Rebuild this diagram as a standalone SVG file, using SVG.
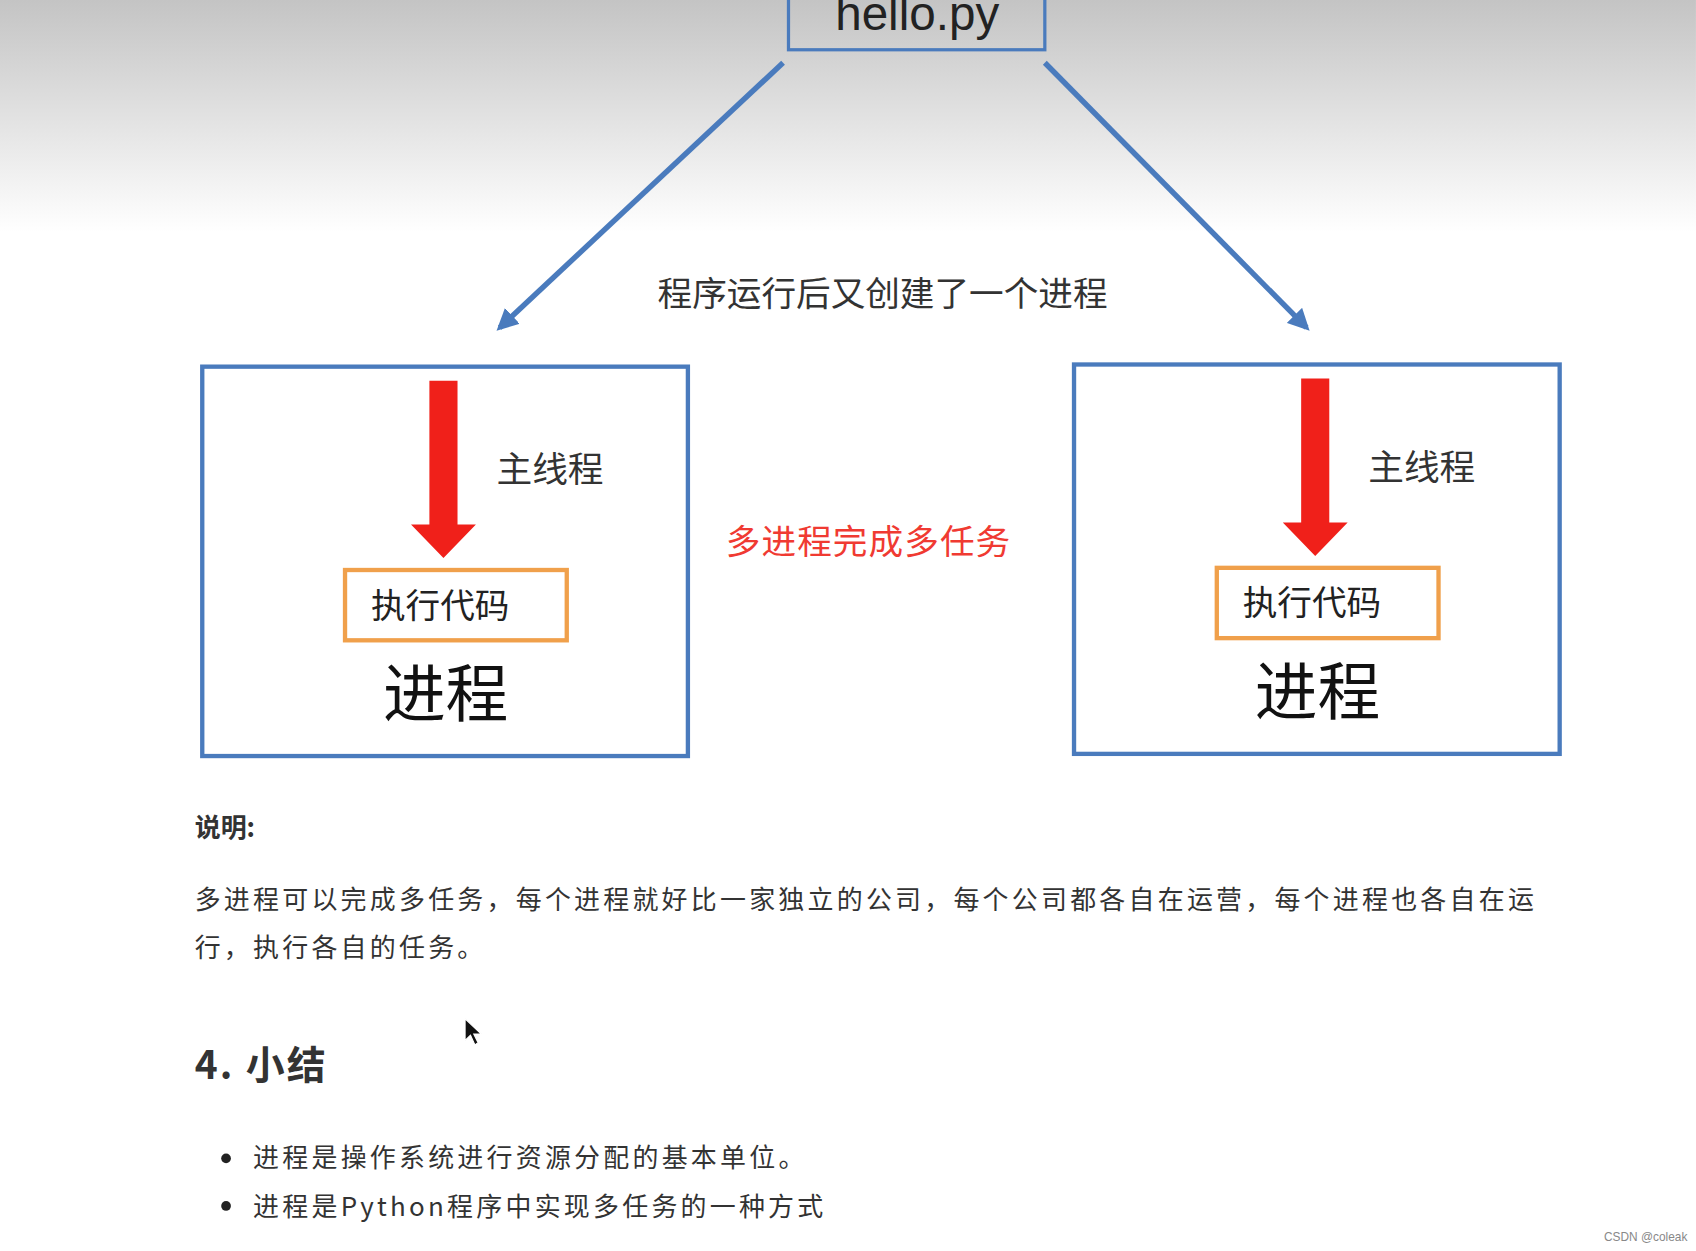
<svg xmlns="http://www.w3.org/2000/svg" width="1696" height="1251" viewBox="0 0 1696 1251">
<style>
.cjk{font-family:"Noto Sans CJK SC","Noto Sans",sans-serif}
.blue{fill:none;stroke:#4a7bbd;stroke-width:4}
.org{fill:#fff;stroke:#f0a04b;stroke-width:4}
.t{fill:#333}
.sp{letter-spacing:3px}
</style>
<defs>
<linearGradient id="bg" x1="0" y1="0" x2="0" y2="1">
<stop offset="0" stop-color="#c4c4c4"/><stop offset="1" stop-color="#ffffff"/>
</linearGradient>
<marker id="ah" viewBox="0 0 10 10" refX="8" refY="5" markerWidth="4" markerHeight="4" orient="auto" markerUnits="strokeWidth">
<path d="M0,0 L10,5 L0,10 Z" fill="#4a7bbd"/>
</marker>
</defs>
<rect width="1696" height="1251" fill="#fff"/>
<g transform="scale(1.0816)">
<rect x="0" y="0" width="1568" height="215" fill="url(#bg)"/>
<g id="hello">
<rect x="729" y="-10" width="237" height="56" fill="none" stroke="#4a7bbd" stroke-width="3"/>
<text x="848" y="28" text-anchor="middle" font-family="Liberation Sans,sans-serif" font-size="44" fill="#222">hello.py</text>
</g>
<g id="connectors">
<line x1="724" y1="58" x2="462" y2="303" stroke="#4a7bbd" stroke-width="5" marker-end="url(#ah)"/>
<line x1="966" y1="58" x2="1208" y2="303" stroke="#4a7bbd" stroke-width="5" marker-end="url(#ah)"/>
</g>
<text class="cjk" x="816" y="283" text-anchor="middle" font-size="32" fill="#333">程序运行后又创建了一个进程</text>
<g id="procL">
<rect class="blue" x="187" y="339" width="449" height="360"/>
<polygon points="397,352 423,352 423,485 440,485 410,516 380,485 397,485" fill="#f0201a"/>
<text class="cjk" x="459" y="446" font-size="33" fill="#333">主线程</text>
<rect class="org" x="319" y="527" width="205" height="65"/>
<text class="cjk" x="343" y="571" font-size="32" fill="#222">执行代码</text>
<text class="cjk" x="412" y="662" text-anchor="middle" font-size="58" fill="#111">进程</text>
</g>
<g id="procR" transform="translate(806,-2)">
<rect class="blue" x="187" y="339" width="449" height="360"/>
<polygon points="397,352 423,352 423,485 440,485 410,516 380,485 397,485" fill="#f0201a"/>
<text class="cjk" x="459" y="446" font-size="33" fill="#333">主线程</text>
<rect class="org" x="319" y="527" width="205" height="65"/>
<text class="cjk" x="343" y="571" font-size="32" fill="#222">执行代码</text>
<text class="cjk" x="412" y="662" text-anchor="middle" font-size="58" fill="#111">进程</text>
</g>
<text class="cjk" x="671" y="512" font-size="32" fill="#f03a32" letter-spacing="1">多进程完成多任务</text>
<text class="cjk t" x="180" y="774" font-size="24" font-weight="bold">说明:</text>
<text class="cjk t sp" x="180" y="840" font-size="24">多进程可以完成多任务，每个进程就好比一家独立的公司，每个公司都各自在运营，每个进程也各自在运</text>
<text class="cjk t sp" x="180" y="885" font-size="24">行，执行各自的任务。</text>
<polygon points="430,942 430,962 435,957 439,966 442,964 438,956 445,956" fill="#111" stroke="#fff" stroke-width="1"/>
<text class="cjk t" x="180" y="998" font-size="36" font-weight="bold" letter-spacing="2">4. 小结</text>
<circle cx="209" cy="1071" r="4.5" fill="#222"/>
<circle cx="209" cy="1115" r="4.5" fill="#222"/>
<text class="cjk t sp" x="234" y="1079" font-size="24">进程是操作系统进行资源分配的基本单位。</text>
<text class="cjk t sp" x="234" y="1124" font-size="24">进程是Python程序中实现多任务的一种方式</text>
<text x="1483" y="1147" font-family="Liberation Sans,sans-serif" font-size="11" fill="#888">CSDN @coleak</text>
</g>
</svg>
